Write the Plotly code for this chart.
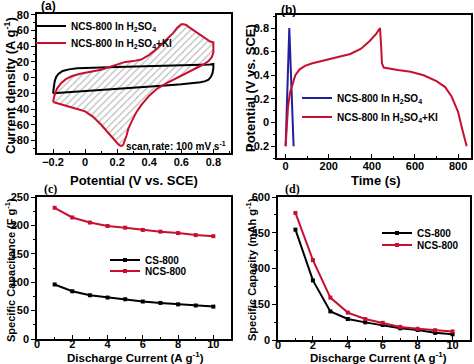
import plotly.graph_objects as go

# ---------------- data ----------------
# (a) cyclic voltammetry, NCS-800 in H2SO4 (closed loop)
cv_h2so4_v = [-0.2, -0.195, -0.19, -0.18, -0.165, -0.14, -0.1, -0.05, 0.0, 0.1, 0.2, 0.3, 0.4, 0.5, 0.6, 0.7, 0.78, 0.8,
              0.8, 0.795, 0.785, 0.77, 0.75, 0.72, 0.68,
              0.6, 0.5, 0.4, 0.3, 0.2, 0.1, 0.0, -0.1, -0.2]
cv_h2so4_i = [-20, -12, -5, 1, 5, 8.5, 10.5, 11.8, 12.5, 13, 13.5, 14, 14.5, 15, 15.5, 16, 16.8, 17.5,
              12, 6, 1, -2.5, -4.5, -6, -7,
              -8.5, -10, -11.5, -13, -14.5, -16, -17.5, -18.8, -20]
# (a) cyclic voltammetry, NCS-800 in H2SO4+KI (closed loop)
cv_ki_v = [-0.2, -0.19, -0.175, -0.15, -0.12, -0.08, -0.03, 0.0, 0.05, 0.1, 0.15, 0.2, 0.25, 0.3, 0.35, 0.4, 0.45,
           0.5, 0.55, 0.575, 0.59, 0.6, 0.615, 0.63, 0.65, 0.7, 0.75, 0.78, 0.8,
           0.8, 0.8, 0.79, 0.77, 0.74, 0.7, 0.65, 0.6, 0.55, 0.5, 0.45, 0.4, 0.35, 0.32, 0.29, 0.27, 0.258, 0.248,
           0.238, 0.228, 0.218, 0.205, 0.19, 0.15, 0.1, 0.05, 0.0, -0.05, -0.1, -0.15, -0.2]
cv_ki_i = [-31, -22, -14, -7, -2, 2, 5, 6.5, 8, 10, 13.5, 17.5, 20, 21, 23, 29, 37,
           47, 57, 63.5, 67, 68, 68, 67, 64, 57, 50, 46, 45,
           38, 32, 26, 21, 17, 13, 8, 3, -2, -8, -14, -23, -35, -44, -56, -65, -74, -81,
           -85.5, -87, -86.5, -84.5, -81, -72, -60, -50, -43, -40, -37, -34, -31]

# (b) galvanostatic charge-discharge
gcd_h2so4_t = [0, 8, 17, 27, 37]
gcd_h2so4_v = [-0.2, 0.27, 0.8, 0.3, -0.2]
gcd_ki_t = [0, 5, 11, 20, 30, 45, 65, 90, 120, 175, 240, 300, 350, 390, 420, 438,
            443, 447, 455, 480, 520, 580, 640, 700, 740, 770, 800, 820, 840]
gcd_ki_v = [-0.2, 0.0, 0.13, 0.25, 0.32, 0.40, 0.45, 0.48, 0.50, 0.525, 0.55, 0.58, 0.625, 0.69, 0.75, 0.80,
            0.65, 0.50, 0.465, 0.455, 0.445, 0.43, 0.40, 0.35, 0.30, 0.22, 0.09, -0.06, -0.2]

# (c) specific capacitance / (d) specific capacity vs discharge current
current = [1, 2, 3, 4, 5, 6, 7, 8, 9, 10]
capacitance_cs800 = [96, 84, 77, 73, 70, 66, 63.5, 61, 59, 57]
capacitance_ncs800 = [231, 214, 205, 199, 196, 192, 189, 186.5, 183, 181]
capacity_cs800 = [463, 250, 120, 88, 74, 63, 49, 42, 30, 24]
capacity_ncs800 = [533, 335, 178, 115, 88, 72, 55, 47, 41, 36]

lbl_h2so4 = "NCS-800 In H<sub>2</sub>SO<sub>4</sub>"
lbl_ki = "NCS-800 In H<sub>2</sub>SO<sub>4</sub>+KI"

W, H = 474, 364
def fx(p):
    return p / W
def fy(p):
    return 1 - p / H

RED = "#c8102e"
BLUE = "#1f1fa0"
SANS = "Liberation Sans, Arial, sans-serif"
SERIF = "Liberation Serif, Times New Roman, serif"

fig = go.Figure()

# ---- (a) ----
fig.add_trace(go.Scatter(x=cv_ki_v, y=cv_ki_i, mode="lines", fill="toself",
                         line=dict(width=0, color="rgba(0,0,0,0)"),
                         fillcolor="white",
                         fillpattern=dict(shape="/", fgcolor="#7a7a7a", bgcolor="white", size=5, solidity=0.25),
                         showlegend=False, hoverinfo="skip", xaxis="x", yaxis="y"))
fig.add_trace(go.Scatter(x=cv_h2so4_v, y=cv_h2so4_i, mode="lines", name=lbl_h2so4,
                         line=dict(color="black", width=2), xaxis="x", yaxis="y", legend="legend"))
fig.add_trace(go.Scatter(x=cv_ki_v, y=cv_ki_i, mode="lines", name=lbl_ki,
                         line=dict(color=RED, width=2), xaxis="x", yaxis="y", legend="legend2"))

# ---- (b) ----
fig.add_trace(go.Scatter(x=gcd_h2so4_t, y=gcd_h2so4_v, mode="lines", name=lbl_h2so4,
                         line=dict(color=BLUE, width=2), xaxis="x2", yaxis="y2", legend="legend3"))
fig.add_trace(go.Scatter(x=gcd_ki_t, y=gcd_ki_v, mode="lines", name=lbl_ki,
                         line=dict(color=RED, width=2), xaxis="x2", yaxis="y2", legend="legend4"))

# ---- (c) ----
fig.add_trace(go.Scatter(x=current, y=capacitance_cs800, mode="lines+markers", name="CS-800",
                         line=dict(color="black", width=2), marker=dict(symbol="square", size=4, color="black"),
                         xaxis="x3", yaxis="y3", legend="legend5"))
fig.add_trace(go.Scatter(x=current, y=capacitance_ncs800, mode="lines+markers", name="NCS-800",
                         line=dict(color=RED, width=2), marker=dict(symbol="square", size=4, color=RED),
                         xaxis="x3", yaxis="y3", legend="legend6"))

# ---- (d) ----
fig.add_trace(go.Scatter(x=current, y=capacity_cs800, mode="lines+markers", name="CS-800",
                         line=dict(color="black", width=2), marker=dict(symbol="square", size=4, color="black"),
                         xaxis="x4", yaxis="y4", legend="legend7"))
fig.add_trace(go.Scatter(x=current, y=capacity_ncs800, mode="lines+markers", name="NCS-800",
                         line=dict(color=RED, width=2), marker=dict(symbol="square", size=4, color=RED),
                         xaxis="x4", yaxis="y4", legend="legend8"))

tickfont = dict(family=SANS, size=11, color="black", weight="bold")

def xax(domain, anchor, rng, dtick, minor_dtick, standoff=-3):
    return dict(domain=domain, anchor=anchor, range=rng, dtick=dtick, tick0=0,
                showline=True, mirror=True, linecolor="black", linewidth=1.5,
                ticks="inside", ticklen=4, tickwidth=1.2, tickcolor="black",
                ticklabelstandoff=standoff,
                minor=dict(dtick=minor_dtick, ticks="inside", ticklen=2, tickwidth=1, tickcolor="black"),
                showgrid=False, zeroline=False, tickfont=tickfont, automargin=False)

def yax(domain, anchor, rng, dtick, minor_dtick):
    return dict(domain=domain, anchor=anchor, range=rng, dtick=dtick, tick0=0,
                showline=True, mirror=True, linecolor="black", linewidth=1.5,
                ticks="outside", ticklen=4, tickwidth=1.2, tickcolor="black",
                minor=dict(dtick=minor_dtick, ticks="outside", ticklen=2, tickwidth=1, tickcolor="black"),
                showgrid=False, zeroline=False, tickfont=tickfont, automargin=False)

def leg(x, y, size=10):
    return dict(x=fx(x), y=fy(y), xanchor="left", yanchor="middle", bgcolor="rgba(0,0,0,0)",
                font=dict(family=SANS, size=size, color="black", weight="bold"),
                itemwidth=30, tracegroupgap=0)

fig.update_layout(
    width=W, height=H, margin=dict(l=0, r=0, t=0, b=0),
    paper_bgcolor="white", plot_bgcolor="white",
    font=dict(family=SANS, color="black"),
    xaxis=xax([fx(37), fx(231)], "y", [-0.3, 0.91], 0.2, 0.1, -2),
    yaxis=yax([fy(153), fy(14)], "x", [-96, 81], 20, 10),
    xaxis2=xax([fx(277), fx(471)], "y2", [-40, 860], 200, 100, -3),
    yaxis2=yax([fy(158), fy(15)], "x2", [-0.3, 0.91], 0.2, 0.1),
    xaxis3=xax([fx(37), fx(231)], "y3", [0, 11], 2, 1, -6),
    yaxis3=yax([fy(339), fy(197)], "x3", [0, 250], 50, 25),
    xaxis4=xax([fx(278), fx(470)], "y4", [0, 11], 2, 1, -6),
    yaxis4=yax([fy(340), fy(197)], "x4", [0, 600], 150, 75),
    legend=leg(31, 26),
    legend2=leg(31, 43),
    legend3=leg(297, 98),
    legend4=leg(297, 117),
    legend5=leg(105, 260),
    legend6=leg(105, 271),
    legend7=leg(377, 233),
    legend8=leg(377, 245),
)

def ann(text, x, y, size, rot=0, family=SANS, xanchor="center"):
    fig.add_annotation(text=text, x=fx(x), y=fy(y), xref="paper", yref="paper",
                       xanchor=xanchor, yanchor="middle", textangle=rot, showarrow=False,
                       font=dict(family=family, size=size, color="black", weight="bold"))

# axis titles
ann("Potential (V vs. SCE)", 134, 180, 13)
ann("Current density (A g<sup>-1</sup>)", 10, 86, 13, -90)
ann("Time (s)", 376, 180, 13)
ann("Potential (V vs. SCE)", 250, 88, 13, -90)
ann("Discharge Current (A g<sup>-1</sup>)", 135, 357, 11.5)
ann("Specific Capacitance (F g<sup>-1</sup>)", 10, 270, 11, -90)
ann("Discharge Current (A g<sup>-1</sup>)", 378, 357, 11.5)
ann("Specific Capacity (mAh g<sup>-1</sup>)", 251, 270, 11, -90)

# panel labels
ann("(a)", 39, 6, 12, xanchor="left")
ann("(b)", 279, 10, 12, xanchor="left")
ann("(c)", 42, 189, 12, family=SERIF, xanchor="left")
ann("(d)", 283, 189, 12, family=SERIF, xanchor="left")

# scan rate note
ann("scan rate: 100 mV s<sup>-1</sup>", 228, 146, 10, xanchor="right")

fig.write_html("out.html", config={"displayModeBar": False},
               post_script="document.body.style.margin='0';document.body.style.overflow='hidden';")
